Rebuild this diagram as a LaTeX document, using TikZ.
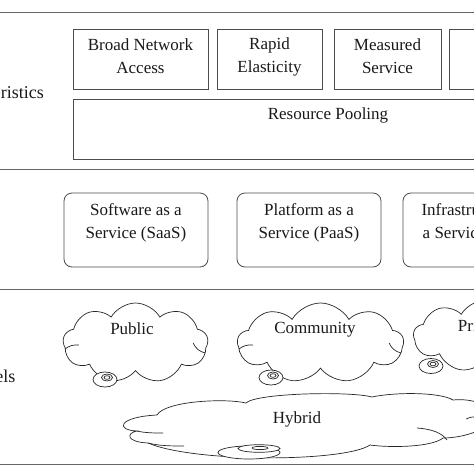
\documentclass[tikz,border=0pt]{standalone}
\usepackage{fontspec}
\setmainfont{Liberation Serif}
\usetikzlibrary{shapes.symbols,calc}
\begin{document}
\begin{tikzpicture}[x=1pt,y=-1pt,
  sepline/.style={draw=black!60,line width=0.9pt},
  boxnode/.style={draw=black!70,line width=0.8pt,rectangle,inner sep=0pt},
  rboxnode/.style={boxnode,rounded corners=8pt},
  txt/.style={font=\fontsize{17}{23}\selectfont,align=center,inner sep=0pt,text=black!90},
  cloudnode/.style={draw=black!85,line width=0.7pt,cloud,inner sep=0pt},
  bub/.style={draw=black!85,line width=0.7pt,fill=white},
  puffline/.style={draw=black!85,line width=0.7pt}
]
\useasboundingbox (0,0) rectangle (474,474);
\clip (0,0) rectangle (474,474);
% separators
\coordinate (l1a) at (0,12); \coordinate (l1b) at (474,12);
\coordinate (l2a) at (0,169.5); \coordinate (l2b) at (474,169.5);
\coordinate (l3a) at (0,289.5); \coordinate (l3b) at (474,289.5);
\coordinate (l4a) at (0,464); \coordinate (l4b) at (474,464);
\draw[sepline] (l1a) -- (l1b);
\draw[sepline] (l2a) -- (l2b);
\draw[sepline] (l3a) -- (l3b);
\draw[sepline] (l4a) -- (l4b);
% left labels
\node[txt,anchor=east,font=\fontsize{18}{23}\selectfont] (lab1) at (44,92) {Essential Characteristics};
\node[txt,anchor=east,font=\fontsize{18}{23}\selectfont] (lab3) at (15.5,378) {Deployment Models};
% characteristics
\node[boxnode,minimum width=135pt,minimum height=60pt] (bna) at (140.5,59) {};
\node[boxnode,minimum width=105pt,minimum height=60pt] (re) at (269.5,59) {};
\node[boxnode,minimum width=107pt,minimum height=60pt] (ms) at (387.5,59) {};
\node[boxnode,minimum width=135pt,minimum height=60pt] (od) at (516.5,59) {};
\node[boxnode,minimum width=510pt,minimum height=60pt] (rp) at (328,129) {};
\node[txt] (tbna) at (140.5,56.5) {Broad Network\\Access};
\node[txt] (tre) at (269.5,56.5) {Rapid\\Elasticity};
\node[txt] (tms) at (387.5,56.5) {Measured\\Service};
\node[txt] (tod) at (516.5,56.5) {On-demand\\Self-service};
\node[txt] (trp) at (328,115) {Resource Pooling};
% service models
\node[rboxnode,minimum width=144pt,minimum height=74pt] (saas) at (136,230) {};
\node[rboxnode,minimum width=144pt,minimum height=74pt] (paas) at (309,230) {};
\node[rboxnode,minimum width=144pt,minimum height=74pt] (iaas) at (475,230) {};
\node[txt] (tsaas) at (136,223) {Software as a\\Service (SaaS)};
\node[txt] (tpaas) at (309,223) {Platform as a\\Service (PaaS)};
\node[txt] (tiaas) at (477,223) {Infrastructure as\\a Service (IaaS)};
% deployment clouds
\node[cloudnode,cloud puffs=9,cloud puff arc=120,aspect=1.8,minimum width=145pt,minimum height=80pt] (pub) at (135.5,343) {};
\node[cloudnode,cloud puffs=9,cloud puff arc=120,aspect=2,minimum width=166pt,minimum height=80pt] (com) at (320.5,343) {};
\node[cloudnode,cloud puffs=9,cloud puff arc=120,aspect=1.9,minimum width=145pt,minimum height=72pt] (pri) at (486,336) {};
% interior puff strokes
\draw[puffline] (pub.west) ++(2,6) to[bend left=20] ++(14,-4);
\draw[puffline] (pub.east) ++(-3,10) to[bend left=25] ++(-12,-10);
\draw[puffline] (com.west) ++(2,6) to[bend left=20] ++(14,-4);
\draw[puffline] (com.east) ++(-3,10) to[bend left=25] ++(-12,-10);
% hybrid cloud (drawn directly)
\draw[puffline,fill=white] (157,415)
  .. controls (165,401) and (225,398) .. (246,403)
  .. controls (256,393) and (350,391) .. (372,397)
  .. controls (395,392) and (440,392) .. (453,400)
  .. controls (472,398) and (492,405) .. (490,416)
  .. controls (492,430) and (462,438) .. (443,438)
  .. controls (432,447) and (392,448) .. (370,445)
  .. controls (345,462) and (195,463) .. (148,443)
  .. controls (126,442) and (126,433) .. (137,431)
  .. controls (115,430) and (118,417) .. (157,415) -- cycle;
\draw[puffline] (137,431) .. controls (145,433) and (155,433) .. (163,433);
\draw[puffline] (148,443) .. controls (160,446) and (172,446) .. (184,446);
\draw[puffline] (417,428) .. controls (432,429) and (442,433) .. (447,440);
\draw[puffline] (466,419) .. controls (469,417) and (472,417) .. (476,417);
\node[txt] (tpub) at (132,329) {Public};
\node[txt] (tcom) at (315,330) {Community};
\node[txt] (tpri) at (482,326) {Private};
\node[txt] (thyb) at (297,419) {Hybrid};
% thought bubbles
\draw[bub] (105,379.5) ellipse (12pt and 7.5pt);
\draw[bub] (107,377.5) ellipse (5.5pt and 3.5pt);
\draw[bub] (107,377.5) ellipse (3pt and 1.8pt);
\draw[bub] (271,377.5) ellipse (12pt and 7.5pt);
\draw[bub] (273,375.5) ellipse (5.5pt and 3.5pt);
\draw[bub] (273,375.5) ellipse (3pt and 1.8pt);
\draw[bub] (431,366) ellipse (12pt and 7.5pt);
\draw[bub] (433,364) ellipse (5.5pt and 3.5pt);
\draw[bub] (433,364) ellipse (3pt and 1.8pt);
\draw[bub] (249,452.5) ellipse (31pt and 6.5pt);
\draw[bub] (259,448.5) ellipse (21pt and 3.8pt);
\draw[bub] (260,448) ellipse (8pt and 1.6pt);
\end{tikzpicture}
\end{document}
